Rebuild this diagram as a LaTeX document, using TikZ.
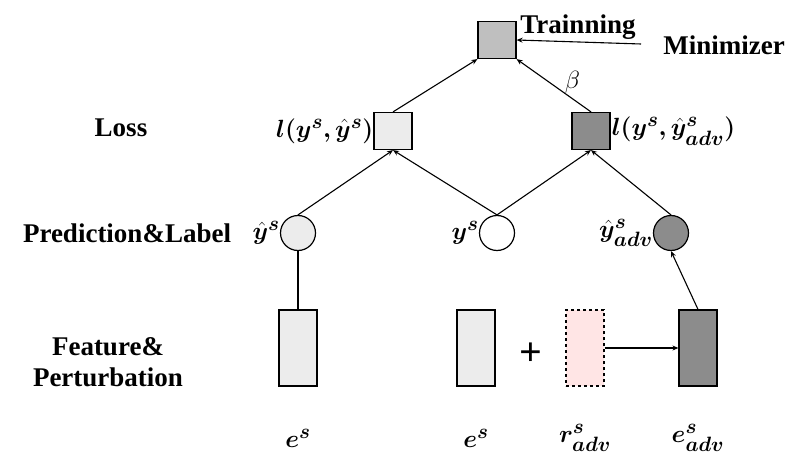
\documentclass[tikz,border=0pt]{standalone}
\usepackage{fontspec}
\usepackage{amsmath,bm}
\setmainfont{Liberation Serif}
\usetikzlibrary{arrows.meta}
\begin{document}
\begin{tikzpicture}[x=1pt,y=-1pt,
  sq/.style={draw,line width=1.2pt,minimum width=38pt,minimum height=37pt,inner sep=0pt},
  cir/.style={draw,circle,line width=1.2pt,minimum size=35pt,inner sep=0pt},
  bar/.style={draw,line width=1.2pt,minimum width=38pt,minimum height=76pt,inner sep=0pt},
  arr/.style={-{Stealth[length=6pt,width=5pt]},line width=1.1pt},
  lab/.style={font=\bfseries\fontsize{27}{31}\selectfont},
  ml/.style={font=\fontsize{28}{32}\selectfont}]
\useasboundingbox (0,0) rectangle (794,470);
\node[sq,fill=gray!50] (top) at (497,40) {};
\node[sq,fill=gray!15] (la) at (393,131) {};
\node[sq,fill=gray!90] (lb) at (591,131) {};
\node[cir,fill=gray!15] (ca) at (298,233) {};
\node[cir,fill=white] (cb) at (497,233) {};
\node[cir,fill=gray!90] (cc) at (671,233) {};
\node[bar,fill=gray!15] (fa) at (298,348) {};
\node[bar,fill=gray!15] (fb) at (476,348) {};
\node[bar,fill=pink!40,dashed] (fr) at (585,348) {};
\node[bar,fill=gray!90] (fc) at (698,348) {};
\draw[arr] (la.north) -- (top.south west);
\draw[arr] (lb.north) -- node[pos=0.35,above right=-4pt,ml] {$\beta$} (top.south east);
\draw[arr] (ca.north) -- (la.south);
\draw[arr] (cb.north) -- (la.south);
\draw[arr] (cb.north) -- (lb.south);
\draw[arr] (cc.north) -- (lb.south);
\draw[line width=1.1pt] (fa.north) -- (ca.south);
\draw[arr] (fc.north) -- (cc.south);
\draw[arr] (fr.east) -- (fc.west);
\node[lab,inner sep=0pt] (tr) at (578,27) {Trainning};
\node[lab,inner sep=0pt] (mn) at (724,45) {Minimizer};
\coordinate (ms) at (641,44);
\draw[arr] (ms) -- (top.east);
\node[ml,anchor=east,inner sep=0pt] at (la.west) {$\bm{l(y^s,\hat{y}^s)}$};
\node[ml,anchor=west,inner sep=1pt] at (lb.east) {$\bm{l(y^s,\hat{y}^s_{adv})}$};
\node[ml,anchor=east,inner sep=0pt] at (ca.west) {$\bm{\hat{y}^s}$};
\node[ml,anchor=east,inner sep=0pt] at (cb.west) {$\bm{y^s}$};
\node[ml,anchor=east,inner sep=0pt] at (cc.west) {$\bm{\hat{y}^s_{adv}}$};
\node[ml] at (298,438) {$\bm{e^s}$};
\node[ml] at (476,438) {$\bm{e^s}$};
\node[ml] at (585,438) {$\bm{r^s_{adv}}$};
\node[ml] at (698,438) {$\bm{e^s_{adv}}$};
\node[font=\bfseries\fontsize{40}{40}\selectfont] at (531,354) {+};
\node[lab] at (121,128) {Loss};
\node[lab] at (127,233) {Prediction\&Label};
\node[lab,align=center] at (108,362) {Feature\&\\Perturbation};
\end{tikzpicture}
\end{document}
